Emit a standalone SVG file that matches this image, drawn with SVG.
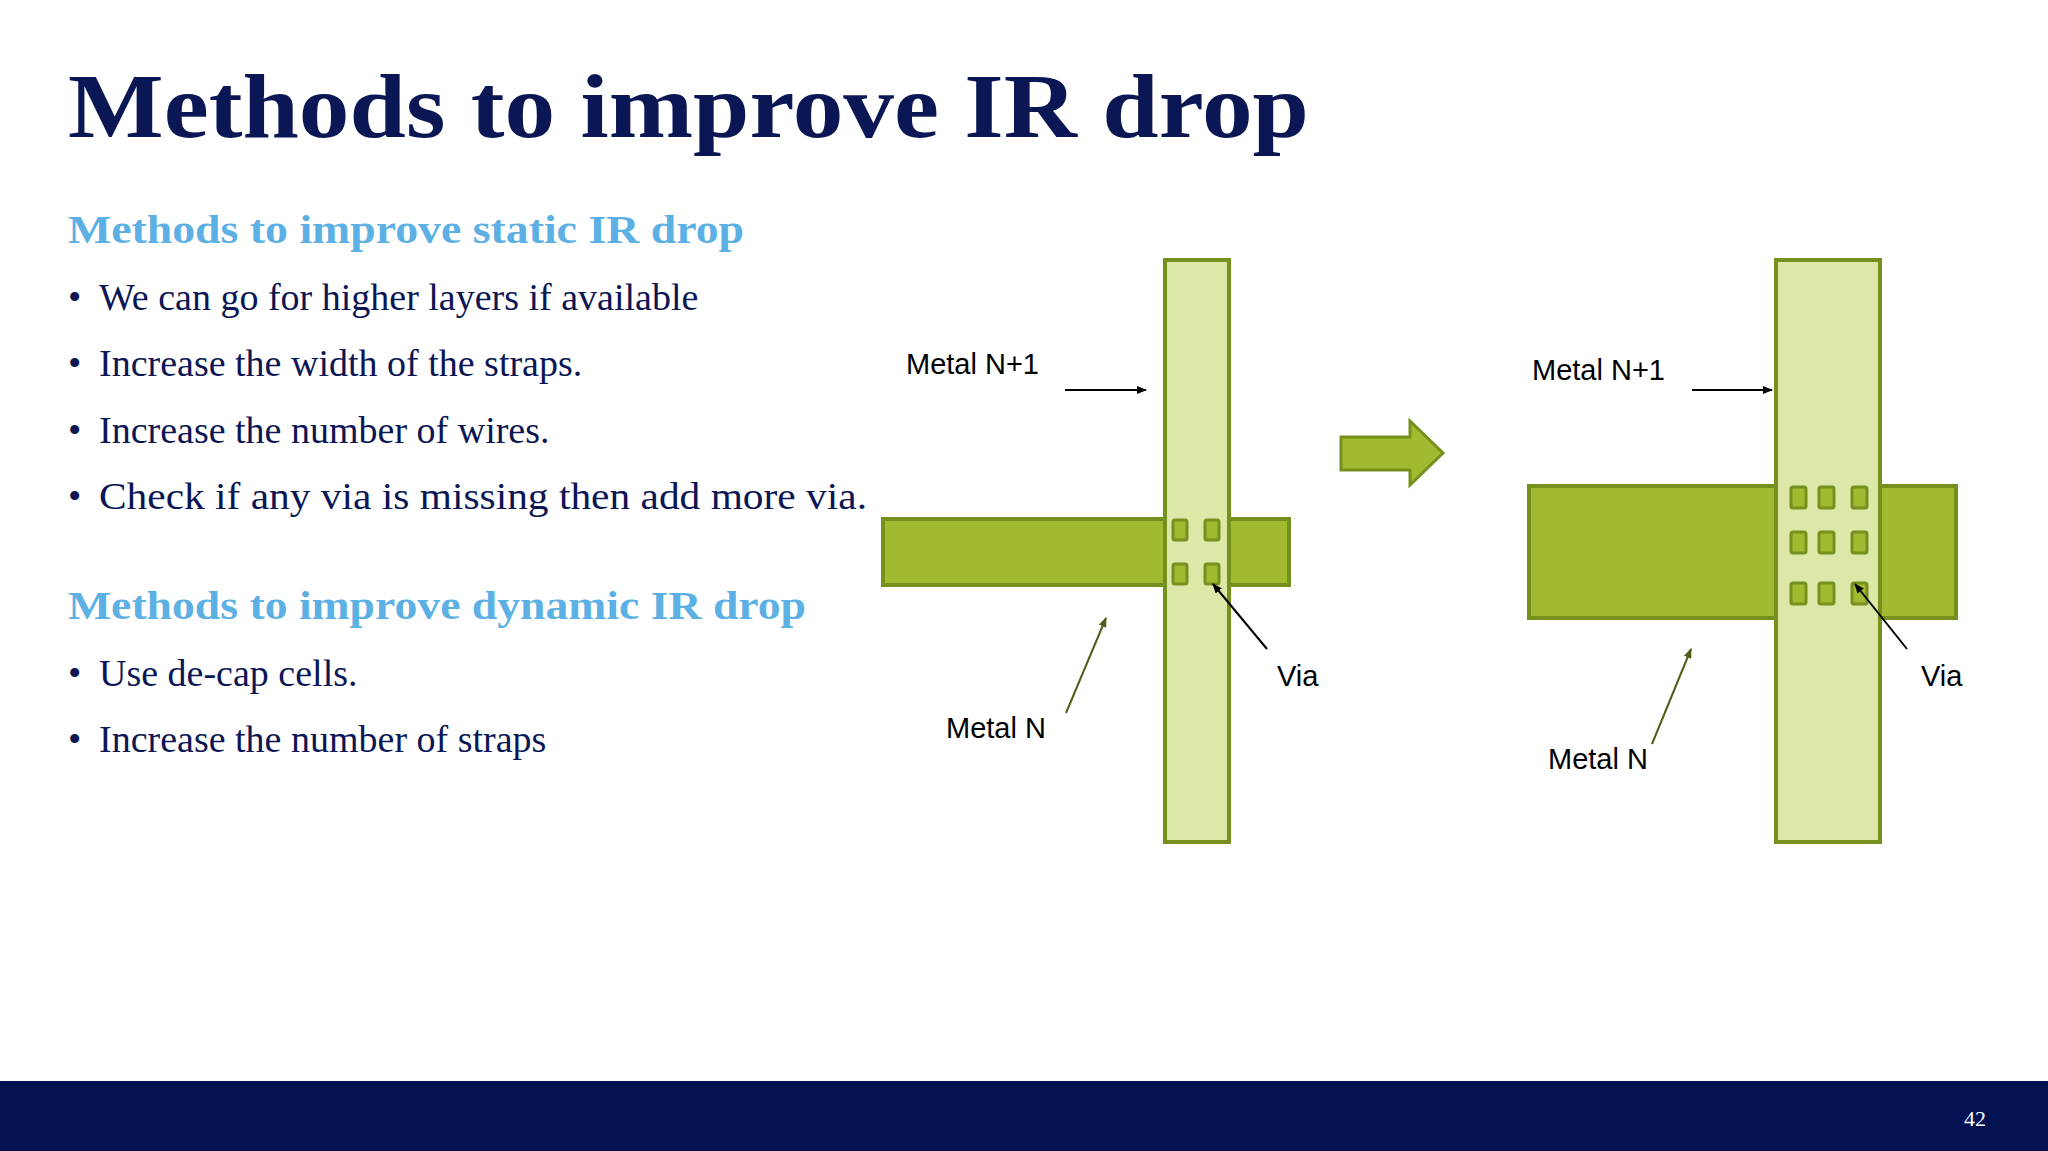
<svg xmlns="http://www.w3.org/2000/svg" width="2048" height="1151" viewBox="0 0 2048 1151">
<style>
.t{font-family:"Liberation Serif","DejaVu Serif",serif;font-weight:bold;fill:#0B1654}
.h{font-family:"Liberation Serif","DejaVu Serif",serif;font-weight:bold;fill:#5DB0E4;font-size:40px}
.b{font-family:"Liberation Serif","DejaVu Serif",serif;fill:#0B1654;font-size:38px}
.l{font-family:"Liberation Sans","Arial",sans-serif;fill:#000;font-size:29px}
.m1{fill:#DCE8A8;stroke:#76901E;stroke-width:4}
.m0{fill:#A0BB30;stroke:#76901E;stroke-width:4}
.v{fill:#A0BB30;stroke:#76901E;stroke-width:3}
.a{stroke:#000;stroke-width:2;fill:none;marker-end:url(#ah)}
.ag{stroke:#4F5F18;stroke-width:2;fill:none;marker-end:url(#ahg)}
</style>
<defs>
<marker id="ah" markerWidth="10" markerHeight="8" refX="9" refY="4" orient="auto" markerUnits="userSpaceOnUse"><path d="M0,0 L10,4 L0,8 z" fill="#000"/></marker>
<marker id="ahg" markerWidth="10" markerHeight="8" refX="9" refY="4" orient="auto" markerUnits="userSpaceOnUse"><path d="M0,0 L10,4 L0,8 z" fill="#4F5F18"/></marker>
</defs>
<rect width="2048" height="1151" fill="#fff"/>
<text class="t" x="68" y="137" font-size="92" textLength="1241" lengthAdjust="spacingAndGlyphs">Methods to improve IR drop</text>
<text class="h" x="68" y="243" textLength="676" lengthAdjust="spacingAndGlyphs">Methods to improve static IR drop</text>
<g class="b">
<text x="68" y="310">•</text><text x="99" y="310">We can go for higher layers if available</text>
<text x="68" y="376">•</text><text x="99" y="376">Increase the width of the straps.</text>
<text x="68" y="443">•</text><text x="99" y="443">Increase the number of wires.</text>
<text x="68" y="509">•</text><text x="99" y="509" textLength="768" lengthAdjust="spacingAndGlyphs">Check if any via is missing then add more via.</text>
<text x="68" y="686">•</text><text x="99" y="686">Use de-cap cells.</text>
<text x="68" y="752">•</text><text x="99" y="752">Increase the number of straps</text>
</g>
<text class="h" x="68" y="619" textLength="738" lengthAdjust="spacingAndGlyphs">Methods to improve dynamic IR drop</text>

<g id="left">
<rect class="m0" x="883" y="519" width="406" height="66"/>
<rect class="m1" x="1165" y="260" width="64" height="582"/>
<g class="v">
<rect x="1173" y="520" width="14" height="20" rx="2"/><rect x="1205" y="520" width="14" height="20" rx="2"/>
<rect x="1173" y="564" width="14" height="20" rx="2"/><rect x="1205" y="564" width="14" height="20" rx="2"/>
</g>
</g>
<g id="right">
<rect class="m0" x="1529" y="486" width="427" height="132"/>
<rect class="m1" x="1776" y="260" width="104" height="582"/>
<g class="v">
<rect x="1791" y="487" width="15" height="21" rx="2"/><rect x="1819" y="487" width="15" height="21" rx="2"/><rect x="1852" y="487" width="15" height="21" rx="2"/>
<rect x="1791" y="532" width="15" height="21" rx="2"/><rect x="1819" y="532" width="15" height="21" rx="2"/><rect x="1852" y="532" width="15" height="21" rx="2"/>
<rect x="1791" y="583" width="15" height="21" rx="2"/><rect x="1819" y="583" width="15" height="21" rx="2"/><rect x="1852" y="583" width="15" height="21" rx="2"/>
</g>
</g>
<g id="bigarrow">
<path d="M1341,437 L1410,437 L1410,421 L1443,453 L1410,485 L1410,470 L1341,470 z" fill="#A0BB30" stroke="#76901E" stroke-width="3"/>
</g>
<g id="labels">
<text class="l" x="906" y="374">Metal N+1</text>
<text class="l" x="946" y="738">Metal N</text>
<text class="l" x="1277" y="686">Via</text>
<text class="l" x="1532" y="380">Metal N+1</text>
<text class="l" x="1548" y="769">Metal N</text>
<text class="l" x="1921" y="686">Via</text>
</g>
<g id="connectors">
<line class="a" x1="1065" y1="390" x2="1146" y2="390"/>
<line class="ag" x1="1066" y1="713" x2="1106" y2="618"/>
<line class="a" x1="1267" y1="649" x2="1213" y2="584"/>
<line class="a" x1="1692" y1="390" x2="1772" y2="390"/>
<line class="ag" x1="1652" y1="744" x2="1691" y2="649"/>
<line class="a" x1="1907" y1="649" x2="1855" y2="584"/>
</g>
<rect x="0" y="1081" width="2048" height="70" fill="#021152"/>
<text x="1964" y="1126" font-family="Liberation Serif, serif" font-size="22" fill="#fff">42</text>
</svg>
